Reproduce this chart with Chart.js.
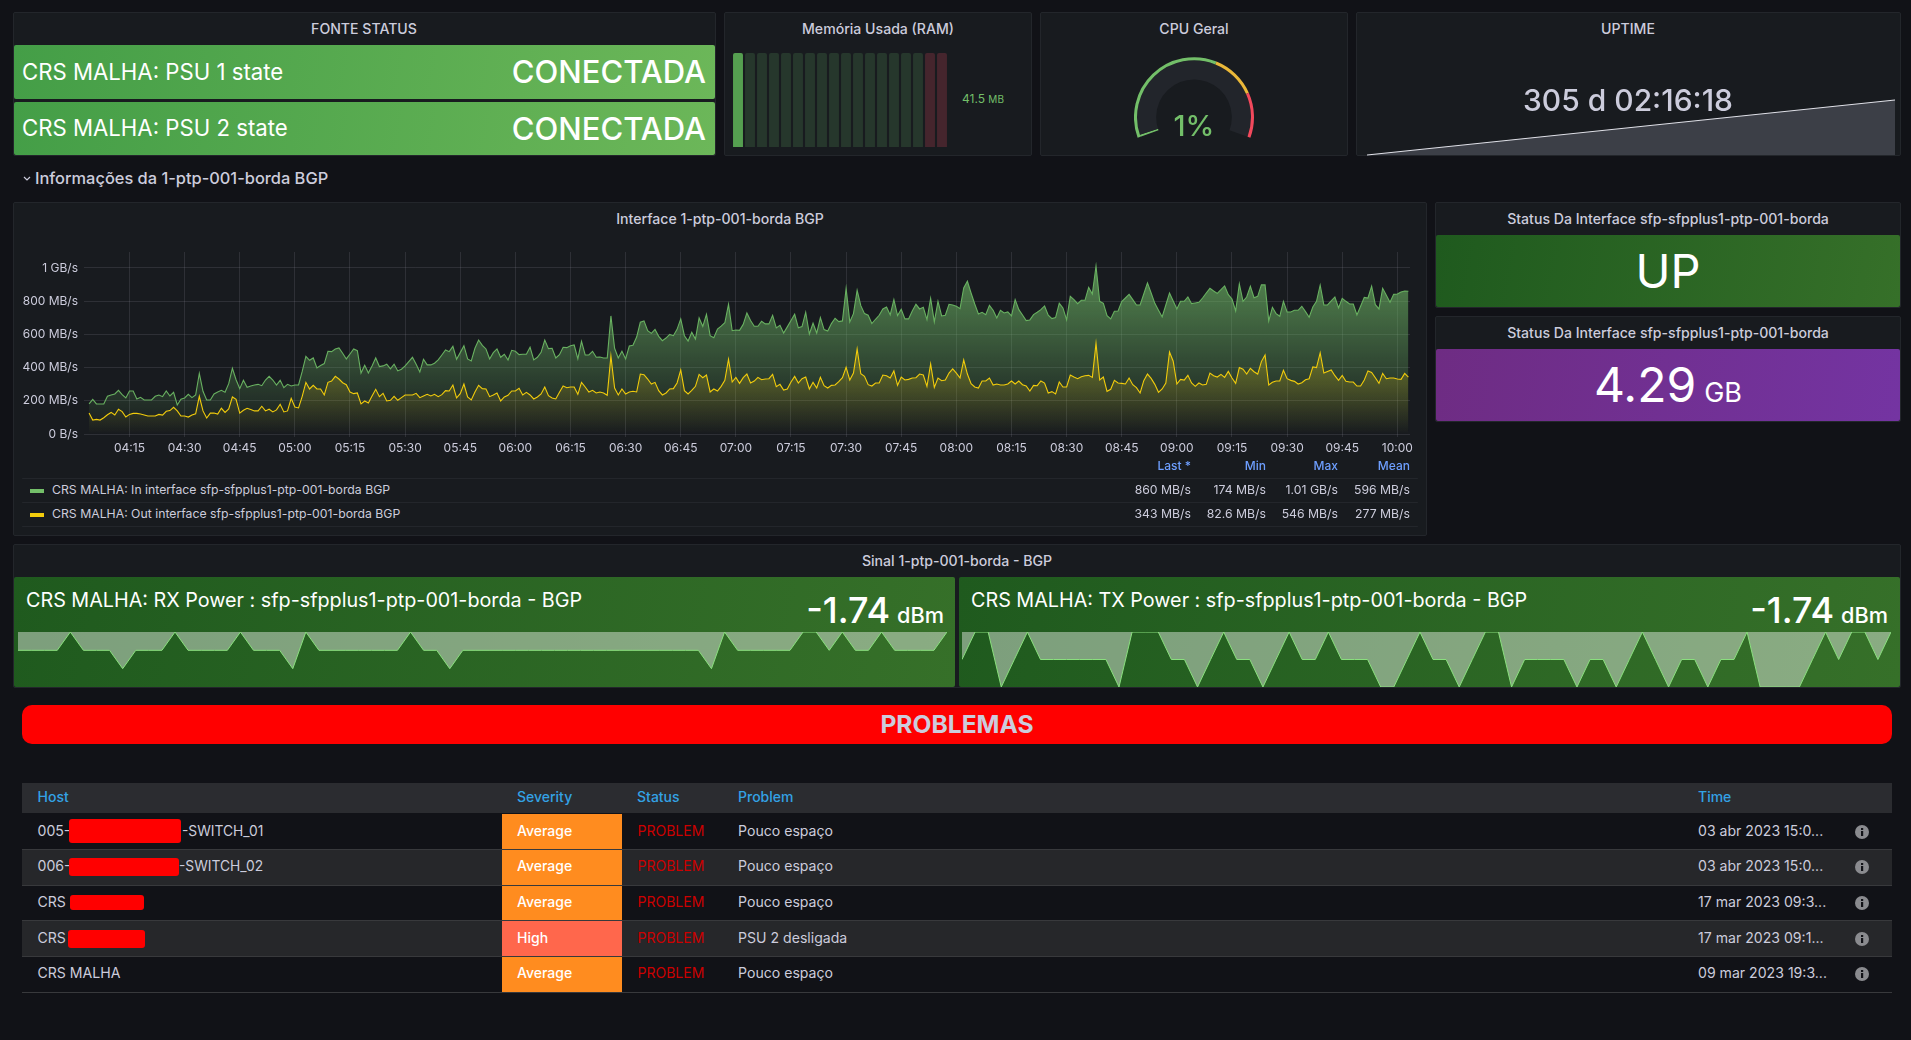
<!DOCTYPE html>
<html lang="pt"><head><meta charset="utf-8"><title>Grafana</title>
<script src="https://cdn.jsdelivr.net/npm/chart.js@4/dist/chart.umd.min.js"></script>
<style>
html,body{margin:0;padding:0;width:1911px;height:1040px;overflow:hidden;background:#111217;font-family:Inter,"Noto Sans",sans-serif;color:#ccccdc}
.p,.b,.t,canvas,svg{position:absolute}
.p{background:#181b1f;border:1px solid #23262b;border-radius:2px;box-sizing:border-box}
.b{border-radius:2px}
.t{white-space:nowrap;line-height:1;transform:translateY(-50%)}
.c{transform:translate(-50%,-50%)}
.r{transform:translate(-100%,-50%)}
.pt{font-size:14.1px;font-weight:500;color:#ccccdc}
.w{color:#fff}
.s{font-size:12.25px}
.th{font-size:14px;font-weight:500;color:#33a2e5}
.td{font-size:14.1px;color:#ccccdc}
.pr{font-size:14px;color:#cc0000}
.sv{font-size:14px;font-weight:500;color:#fff}
.red{position:absolute;background:#f00;border-radius:3px}
.lh{font-size:12px;font-weight:500;color:#6e9fff}
</style></head><body>

<div class="p" style="left:13px;top:12px;width:703px;height:144px"></div>
<div class="t c pt" style="left:364px;top:29px">FONTE STATUS</div>
<div class="b" style="left:14px;top:45px;width:701px;height:54px;background:linear-gradient(100deg,#449e47,#6cb759)"></div>
<div class="b" style="left:14px;top:102px;width:701px;height:53px;background:linear-gradient(100deg,#449e47,#6cb759)"></div>
<div class="t w" style="left:22px;top:72px;font-size:22.2px">CRS MALHA: PSU 1 state</div>
<div class="t r w" style="left:706px;top:71px;font-size:31px;font-weight:500">CONECTADA</div>
<div class="t w" style="left:22px;top:128px;font-size:22.2px">CRS MALHA: PSU 2 state</div>
<div class="t r w" style="left:706px;top:128px;font-size:31px;font-weight:500">CONECTADA</div>

<div class="p" style="left:724px;top:12px;width:308px;height:144px"></div>
<div class="t c pt" style="left:878px;top:29px">Memória Usada (RAM)</div>
<canvas id="ram" width="216" height="94" style="left:732px;top:53px"></canvas>
<div class="t" style="left:962px;top:99px;font-size:12px;color:#73bf69">41.5 <span style="font-size:10px">MB</span></div>

<div class="p" style="left:1040px;top:12px;width:308px;height:144px"></div>
<div class="t c pt" style="left:1194px;top:29px">CPU Geral</div>
<canvas id="cpu" width="120" height="81" style="left:1134px;top:57px"></canvas>
<div class="t c" style="left:1194px;top:125px;font-size:29px;font-weight:500;color:#73bf69">1%</div>

<div class="p" style="left:1356px;top:12px;width:545px;height:144px"></div>
<div class="t c pt" style="left:1628px;top:29px">UPTIME</div>
<canvas id="uptime" width="528" height="57" style="left:1367px;top:99px"></canvas>
<div class="t c" style="left:1628px;top:100px;font-size:30px;font-weight:500;color:#ccccdc">305 d 02:16:18</div>

<svg width="8" height="6" style="left:23px;top:176px"><polyline points="1,1 4,4 7,1" fill="none" stroke="#ccccdc" stroke-width="1.2"/></svg>
<div class="t" style="left:35px;top:178px;font-size:16.4px;font-weight:500">Informações da 1-ptp-001-borda BGP</div>

<div class="p" style="left:13px;top:202px;width:1414px;height:334px"></div>
<div class="t c pt" style="left:720px;top:219px">Interface 1-ptp-001-borda BGP</div>
<canvas id="traffic" width="1400" height="222" style="left:14px;top:245px"></canvas>
<div class="t r lh" style="left:1191px;top:466px">Last *</div>
<div class="t r lh" style="left:1266px;top:466px">Min</div>
<div class="t r lh" style="left:1338px;top:466px">Max</div>
<div class="t r lh" style="left:1410px;top:466px">Mean</div>
<div class="b" style="left:22px;top:478px;width:1396px;height:1px;background:#23262b"></div>
<div class="b" style="left:22px;top:502px;width:1396px;height:1px;background:#23262b"></div>
<div class="b" style="left:22px;top:526px;width:1396px;height:1px;background:#23262b"></div>
<div class="b" style="left:30px;top:489px;width:14px;height:4px;background:#73bf69;border-radius:0"></div>
<div class="b" style="left:30px;top:513px;width:14px;height:4px;background:#f2cc0c;border-radius:0"></div>
<div class="t s" style="left:52px;top:490px">CRS MALHA: In interface sfp-sfpplus1-ptp-001-borda BGP</div>
<div class="t s" style="left:52px;top:514px">CRS MALHA: Out interface sfp-sfpplus1-ptp-001-borda BGP</div>
<div class="t r s" style="left:1191px;top:490px">860 MB/s</div>
<div class="t r s" style="left:1266px;top:490px">174 MB/s</div>
<div class="t r s" style="left:1338px;top:490px">1.01 GB/s</div>
<div class="t r s" style="left:1410px;top:490px">596 MB/s</div>
<div class="t r s" style="left:1191px;top:514px">343 MB/s</div>
<div class="t r s" style="left:1266px;top:514px">82.6 MB/s</div>
<div class="t r s" style="left:1338px;top:514px">546 MB/s</div>
<div class="t r s" style="left:1410px;top:514px">277 MB/s</div>

<div class="p" style="left:1435px;top:202px;width:466px;height:106px"></div>
<div class="t c pt" style="left:1668px;top:219px">Status Da Interface sfp-sfpplus1-ptp-001-borda</div>
<div class="b" style="left:1436px;top:235px;width:464px;height:72px;background:linear-gradient(100deg,#1f5a1e,#367029)"></div>
<div class="t c w" style="left:1668px;top:270px;font-size:47px;font-weight:400">UP</div>
<div class="p" style="left:1435px;top:316px;width:466px;height:106px"></div>
<div class="t c pt" style="left:1668px;top:333px">Status Da Interface sfp-sfpplus1-ptp-001-borda</div>
<div class="b" style="left:1436px;top:349px;width:464px;height:72px;background:linear-gradient(100deg,#6e2c83,#7434a2)"></div>
<div class="t c w" style="left:1668px;top:385px;font-size:48px;font-weight:400">4.29<span style="font-size:27px;margin-left:8px">GB</span></div>

<div class="p" style="left:13px;top:544px;width:1888px;height:144px"></div>
<div class="t c pt" style="left:957px;top:561px">Sinal 1-ptp-001-borda - BGP</div>
<div class="b" style="left:14px;top:577px;width:941px;height:110px;background:linear-gradient(100deg,#1f5a1e,#367029)"></div>
<div class="b" style="left:959px;top:577px;width:941px;height:110px;background:linear-gradient(100deg,#1f5a1e,#367029)"></div>
<canvas id="rx" width="929" height="55" style="left:18px;top:632px"></canvas>
<canvas id="tx" width="929" height="55" style="left:962px;top:632px"></canvas>
<div class="t w" style="left:26px;top:601px;font-size:19.75px">CRS MALHA: RX Power : sfp-sfpplus1-ptp-001-borda - BGP</div>
<div class="t w" style="left:971px;top:601px;font-size:19.75px">CRS MALHA: TX Power : sfp-sfpplus1-ptp-001-borda - BGP</div>
<div class="t r w" style="left:944px;top:610px;font-size:36px;font-weight:500">-1.74<span style="font-size:21.7px;margin-left:7px">dBm</span></div>
<div class="t r w" style="left:1888px;top:610px;font-size:36px;font-weight:500">-1.74<span style="font-size:21.7px;margin-left:7px">dBm</span></div>

<div class="b" style="left:22px;top:705px;width:1870px;height:39px;background:#f00;border-radius:10px"></div>
<div class="t c" style="left:957px;top:724px;font-size:24.6px;font-weight:700;color:#ccccdc">PROBLEMAS</div>

<div id="tbl"></div>

<script>
const inTraffic = [181,209,181,181,181,227,235,241,263,237,217,259,259,211,221,205,205,205,227,235,225,259,229,251,175,209,217,239,219,235,365,257,205,205,241,253,263,251,303,396,327,273,323,281,289,295,299,291,325,347,325,295,323,279,299,289,295,295,377,468,444,458,398,412,424,498,496,512,518,486,452,482,512,502,367,414,367,410,458,406,410,420,392,420,380,390,410,436,462,420,
373,450,416,416,426,446,476,506,496,528,450,490,532,452,440,516,566,534,512,452,490,512,462,480,446,504,498,478,480,480,522,446,462,492,566,514,516,458,478,522,520,532,536,452,558,476,476,498,462,464,458,458,711,516,458,498,452,530,534,584,673,681,622,606,630,588,562,578,600,592,630,693,592,560,612,572,699,648,721,592,580,632,650,670,781,622,626,624,660,729,
683,649,649,679,663,663,715,639,655,608,645,683,721,639,647,733,602,667,608,701,629,620,665,697,677,681,877,675,725,865,773,725,715,665,691,715,753,765,717,809,713,751,693,693,741,781,753,763,689,817,675,799,711,715,781,777,769,755,880,920,849,783,723,733,719,775,745,699,745,729,735,711,809,749,717,683,687,719,733,749,771,715,695,701,787,759,687,829,809,785,
805,805,883,843,1010,799,787,713,693,739,741,797,819,841,809,777,777,843,910,849,787,745,705,777,849,801,753,799,799,825,785,789,793,819,849,877,861,847,869,892,839,813,741,904,799,825,890,821,829,898,898,681,763,725,709,799,735,735,745,745,769,737,703,765,799,896,777,777,801,825,759,817,799,783,783,717,769,823,819,890,779,753,877,835,793,841,843,855,861,860];

const outTraffic = [126,84,88,84,98,116,130,114,149,135,102,118,124,124,120,114,108,108,108,118,114,137,141,161,139,108,108,102,114,122,227,139,96,126,126,120,155,130,151,223,209,126,143,155,147,139,139,167,139,149,133,145,179,133,139,215,163,157,227,311,271,293,271,271,235,311,319,347,331,309,297,253,243,247,181,199,187,229,269,225,245,199,203,227,203,219,235,235,235,245,
219,229,239,229,239,225,237,261,259,295,217,243,301,223,205,253,293,273,271,225,235,247,199,223,233,259,259,275,235,251,235,211,223,241,283,231,217,211,251,289,279,283,283,239,311,283,253,263,247,253,247,233,470,277,235,271,241,253,257,253,361,357,331,301,311,261,235,247,271,273,307,386,261,241,263,287,359,339,355,253,271,259,287,323,450,313,341,305,339,361,
307,319,341,327,331,333,359,285,299,265,271,313,347,307,333,343,271,311,277,341,291,277,293,295,315,339,402,325,367,512,363,347,297,289,307,307,355,351,337,380,293,343,325,329,337,339,361,355,287,422,281,337,321,325,367,392,367,337,446,361,303,283,277,319,319,337,295,301,295,295,301,319,301,319,297,289,259,293,291,319,307,247,255,241,313,283,283,355,343,333,
345,351,353,341,546,325,343,257,269,323,307,305,301,337,297,279,247,321,361,335,299,251,271,307,494,438,301,329,325,353,307,287,307,295,299,367,351,343,359,341,377,337,305,400,390,361,396,375,361,436,476,295,311,319,319,384,333,323,317,301,309,327,333,404,400,488,367,377,386,351,323,353,317,313,313,289,289,325,380,371,339,305,365,333,337,337,331,329,365,343];

const firstMinute = 244;          // 04:04, first sample of the traffic series
const yTicksBytes = {0:'0 B/s',200:'200 MB/s',400:'400 MB/s',600:'600 MB/s',800:'800 MB/s',1000:'1 GB/s'};

const rxPower = [-1.75,-1.75,-1.75,-1.75,-1.74,-1.75,-1.75,-1.75,-1.76,-1.75,-1.75,-1.75,-1.74,-1.75,-1.75,-1.75,-1.75,-1.74,-1.75,-1.75,-1.75,-1.76,-1.74,-1.75,-1.75,-1.75,-1.75,-1.75,-1.75,-1.75,-1.74,-1.75,-1.75,-1.76,-1.75,-1.75,-1.75,-1.75,-1.75,-1.75,-1.75,-1.75,-1.75,-1.75,-1.75,-1.75,-1.75,-1.75,-1.75,-1.75,-1.75,-1.75,-1.75,-1.76,-1.74,-1.75,-1.75,-1.75,-1.75,-1.75,-1.74,-1.74,-1.75,-1.74,-1.75,-1.75,-1.74,-1.75,-1.75,-1.75,-1.75,-1.74];
const txPower = [-1.75,-1.74,-1.74,-1.76,-1.75,-1.74,-1.75,-1.75,-1.75,-1.75,-1.75,-1.75,-1.76,-1.74,-1.74,-1.74,-1.75,-1.75,-1.76,-1.75,-1.74,-1.75,-1.75,-1.76,-1.75,-1.74,-1.75,-1.75,-1.74,-1.75,-1.75,-1.75,-1.76,-1.76,-1.75,-1.74,-1.75,-1.75,-1.76,-1.75,-1.74,-1.74,-1.76,-1.75,-1.75,-1.75,-1.75,-1.76,-1.75,-1.75,-1.76,-1.75,-1.74,-1.75,-1.76,-1.75,-1.75,-1.76,-1.75,-1.75,-1.74,-1.76,-1.76,-1.76,-1.76,-1.75,-1.74,-1.75,-1.74,-1.74,-1.75,-1.74];

const ramCells = [1,1,1,1,1,1,1,1,1,1,1,1,1,1,1,1,1,1];
const cpuThresholds = [60,20,20];
const cpuUsage = [1,99];
const uptimeDays = [304.9,305.1];

const problemHosts = ['005-','006-','CRS','CRS','CRS MALHA'];
const problemHostSuffix = ['-SWITCH_01','-SWITCH_02','','',''];
const problemSeverity = ['Average','Average','Average','High','Average'];
const problemText = ['Pouco espaço','Pouco espaço','Pouco espaço','PSU 2 desligada','Pouco espaço'];
const problemTime = ['03 abr 2023 15:0...','03 abr 2023 15:0...','17 mar 2023 09:3...','17 mar 2023 09:1...','09 mar 2023 19:3...'];

Chart.defaults.animation = false;
Chart.defaults.font.family = 'Inter';
Chart.defaults.plugins.legend.display = false;
Chart.defaults.plugins.tooltip.enabled = false;
Chart.defaults.responsive = false;

const xy = a => a.map((v,i)=>({x:firstMinute+i,y:v}));
const fade = (ctx,rgb,a) => {
  const {chart} = ctx, ca = chart.chartArea;
  if(!ca) return 'transparent';
  const g = chart.ctx.createLinearGradient(0,ca.top,0,ca.bottom);
  g.addColorStop(0,`rgba(${rgb},${a})`); g.addColorStop(1,`rgba(${rgb},0)`);
  return g;
};
const noScalePad = s => { s.paddingTop=0; s.paddingBottom=0; s.paddingLeft=0; s.paddingRight=0; };
new Chart(document.getElementById('traffic'),{
  type:'line',
  data:{datasets:[
    {data:xy(inTraffic),borderColor:'#69b161',borderWidth:1.1,pointRadius:0,tension:0,fill:'origin',order:2,
     backgroundColor:c=>fade(c,'115,191,105',.72)},
    {data:xy(outTraffic),borderColor:'#f2cc0c',borderWidth:1.1,pointRadius:0,tension:0,fill:'origin',order:1,
     backgroundColor:c=>fade(c,'242,204,12',.6)}
  ]},
  options:{
    parsing:false,normalized:true,
    layout:{padding:{top:7,right:4,left:0,bottom:0}},
    scales:{
      x:{type:'linear',min:242.62,max:603.44,
        border:{display:false},
        grid:{color:'rgba(204,204,220,.12)',lineWidth:1,tickLength:3},
        ticks:{stepSize:15,includeBounds:false,autoSkip:false,maxRotation:0,color:'#ccccdc',font:{size:12},padding:4.5,
          callback:v=>String(Math.floor(v/60)).padStart(2,'0')+':'+String(v%60).padStart(2,'0')},
        afterFit:s=>{s.height=33;noScalePad(s)}},
      y:{min:0,max:1096,
        border:{display:false},
        grid:{color:'rgba(204,204,220,.12)',lineWidth:1,drawTicks:false},
        ticks:{stepSize:200,includeBounds:false,color:'#ccccdc',font:{size:12},padding:6,callback:v=>yTicksBytes[v]},
        afterFit:s=>{s.width=70;noScalePad(s)}}
    }
  }
});

const sparkOpts = (min,max)=>({
  layout:{padding:0},
  scales:{x:{display:false},y:{display:false,min,max}}
});
const spark = (id,vals,min,max)=>new Chart(document.getElementById(id),{
  type:'line',
  data:{labels:vals.map((_,i)=>i),datasets:[{data:vals,borderColor:'#8adf7e',borderWidth:1,pointRadius:0,tension:0,fill:'end',clip:false,backgroundColor:'rgba(255,255,255,.42)'}]},
  options:sparkOpts(min,max)
});
spark('rx',rxPower,-1.77,-1.74);
spark('tx',txPower,-1.76,-1.74);

new Chart(document.getElementById('uptime'),{
  type:'line',
  data:{labels:uptimeDays.map((_,i)=>i),datasets:[{data:uptimeDays,borderColor:'#e0e1e8',borderWidth:1.2,pointRadius:0,tension:0,fill:'start',clip:false,backgroundColor:'#3c3f47'}]},
  options:{layout:{padding:{top:1,bottom:1}},scales:{x:{display:false},y:{display:false,min:uptimeDays[0],max:uptimeDays[1]}}}
});

new Chart(document.getElementById('ram'),{
  type:'bar',
  data:{labels:ramCells.map((_,i)=>i),datasets:[{data:ramCells,barPercentage:.83,categoryPercentage:1,borderRadius:2,
    backgroundColor:c=>c.dataIndex===0?'#559f50':(c.dataIndex>=16?'#45252d':'#26372c')}]},
  options:{layout:{padding:0},scales:{x:{display:false},y:{display:false,min:0,max:1}}}
});

new Chart(document.getElementById('cpu'),{
  type:'doughnut',
  data:{datasets:[
    {data:cpuThresholds,backgroundColor:['#73bf69','#eab839','#f2495c'],borderWidth:0,weight:3},
    {data:cpuUsage,backgroundColor:['#73bf69','#22252b'],borderWidth:0,weight:19}
  ]},
  options:{rotation:-110,circumference:220,cutout:'63%',layout:{padding:0}}
});

// table
const tbl = document.getElementById('tbl');
const rowTop=[814,850,886,921,957], rowBot=[849,885,920,956,992], rowMid=[831,866,902,938,973];
const redBoxes=[[69,819,112,24],[69,858,110,18],[70,895,74,15],[68,930,77,18]];
const suffixX=[182,179];
let h=`<div class="b" style="left:22px;top:783px;width:1870px;height:30px;background:#2b2c30;border-radius:0"></div>`;
[['Host',37.5],['Severity',517],['Status',637],['Problem',738],['Time',1698]].forEach(([t,x])=>{h+=`<div class="t th" style="left:${x}px;top:797px">${t}</div>`});
problemHosts.forEach((host,i)=>{
  if(i%2) h+=`<div class="b" style="left:22px;top:${rowTop[i]}px;width:1870px;height:${rowBot[i]-rowTop[i]}px;background:#26272a;border-radius:0"></div>`;
  h+=`<div class="b" style="left:22px;top:${rowBot[i]}px;width:1870px;height:1px;background:#38393c;border-radius:0"></div>`;
  h+=`<div class="b" style="left:502px;top:${rowTop[i]}px;width:120px;height:${rowBot[i]-rowTop[i]}px;background:${problemSeverity[i]==='High'?'#ff674c':'#ff8c1f'};border-radius:0"></div>`;
  h+=`<div class="t td" style="left:37.5px;top:${rowMid[i]}px">${host}</div>`;
  if(redBoxes[i]) h+=`<div class="red" style="left:${redBoxes[i][0]}px;top:${redBoxes[i][1]}px;width:${redBoxes[i][2]}px;height:${redBoxes[i][3]}px"></div>`;
  if(problemHostSuffix[i]) h+=`<div class="t td" style="left:${suffixX[i]}px;top:${rowMid[i]+1}px;font-size:13.8px">${problemHostSuffix[i]}</div>`;
  h+=`<div class="t sv" style="left:517px;top:${rowMid[i]}px">${problemSeverity[i]}</div>`;
  h+=`<div class="t pr" style="left:637.5px;top:${rowMid[i]}px">PROBLEM</div>`;
  h+=`<div class="t td" style="left:738px;top:${rowMid[i]}px">${problemText[i]}</div>`;
  h+=`<div class="t td" style="left:1698px;top:${rowMid[i]}px">${problemTime[i]}</div>`;
  h+=`<svg width="14" height="14" style="left:1855px;top:${rowMid[i]-6}px"><circle cx="7" cy="7" r="7" fill="#8a8b8f"/><rect x="6" y="6" width="2.2" height="5" fill="#111217"/><rect x="6" y="3" width="2.2" height="2" fill="#111217"/></svg>`;
});
tbl.innerHTML=h;
</script>
</body></html>
